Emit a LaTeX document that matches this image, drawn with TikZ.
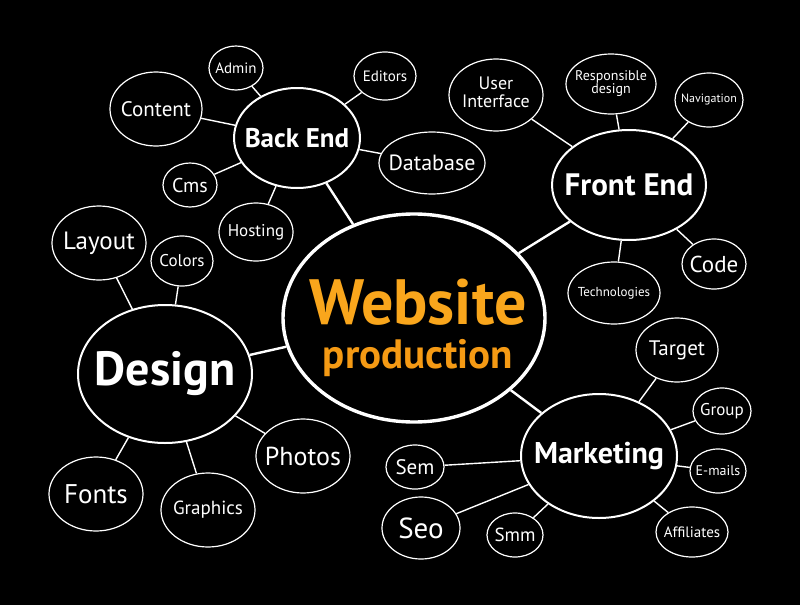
\documentclass[tikz,border=0pt]{standalone}
\usepackage{fontspec}
\setmainfont{PT Sans}
\usetikzlibrary{shapes.geometric}
\definecolor{webgold}{HTML}{F9A61C}
\definecolor{weborange}{HTML}{F59A14}
% text that does not widen its ellipse
\newcommand\nowide[1]{\makebox[0pt]{#1}}
\newcommand\twolines[2]{\makebox[0pt]{\begin{tabular}{@{}c@{}}#1\\#2\end{tabular}}}

\begin{document}
\begin{tikzpicture}[
  x=1pt, y=-1pt,
  bubble/.style={ellipse, draw=white, fill=black, text=white,
    line width=1.2pt, inner sep=0pt},
  hub/.style={bubble, line width=2pt},
  twig/.style={draw=white, line width=1.4pt},
  limb/.style={draw=white, line width=2.4pt},
]
\fill[black] (0,0) rectangle (800,605);
\useasboundingbox (0,0) rectangle (800,605);

% centre
\node[bubble, line width=3.4pt, minimum width=262pt, minimum height=208pt]
  (web) at (414,318) {};
\node[text=webgold, font=\bfseries\fontsize{64}{64}\selectfont] (webtxt) at (418,302) {Website};
\node[text=weborange, font=\bfseries\fontsize{41}{41}\selectfont] (prodtxt) at (418,358) {production};

% hubs
\node[hub, minimum width=126pt, minimum height=100pt, font=\bfseries\fontsize{27}{27}\selectfont]
  (backend) at (297,138) {\nowide{Back End}};
\node[hub, minimum width=154pt, minimum height=110pt, font=\bfseries\fontsize{31}{31}\selectfont]
  (frontend) at (629,185) {\nowide{Front End}};
\node[hub, minimum width=174pt, minimum height=138pt, font=\bfseries\fontsize{48}{48}\selectfont]
  (design) at (165,374) {\nowide{Design}};
\node[hub, minimum width=156pt, minimum height=124pt, font=\bfseries\fontsize{30}{30}\selectfont]
  (marketing) at (599,456) {\nowide{Marketing}};

% back end
\node[bubble, minimum width=92pt, minimum height=74pt, font=\fontsize{21}{21}\selectfont]
  (content) at (156,109) {\nowide{Content}};
\node[bubble, minimum width=54pt, minimum height=44pt, font=\fontsize{15}{15}\selectfont]
  (admin) at (236,68) {\nowide{Admin}};
\node[bubble, minimum width=62pt, minimum height=48pt, font=\fontsize{15}{15}\selectfont]
  (editors) at (385,76) {\nowide{Editors}};
\node[bubble, minimum width=106pt, minimum height=62pt, font=\fontsize{22}{22}\selectfont]
  (database) at (432,163) {\nowide{Database}};
\node[bubble, minimum width=54pt, minimum height=44pt, font=\fontsize{20}{20}\selectfont]
  (cms) at (190,185) {\nowide{Cms}};
\node[bubble, minimum width=74pt, minimum height=58pt, font=\fontsize{17}{17}\selectfont]
  (hosting) at (256,232) {\nowide{Hosting}};

% front end
\node[bubble, minimum width=94pt, minimum height=72pt, font=\fontsize{18}{18}\selectfont]
  (userif) at (496,95) {\twolines{User}{Interface}};
\node[bubble, minimum width=90pt, minimum height=60pt, font=\fontsize{14}{13}\selectfont]
  (respdesign) at (611,84) {\twolines{Responsible}{design}};
\node[bubble, minimum width=68pt, minimum height=54pt, font=\fontsize{12}{12}\selectfont]
  (navigation) at (709,100) {\nowide{Navigation}};
\node[bubble, minimum width=64pt, minimum height=50pt, font=\fontsize{23}{23}\selectfont]
  (code) at (714,264) {\nowide{Code}};
\node[bubble, minimum width=92pt, minimum height=62pt, font=\fontsize{13}{13}\selectfont]
  (techno) at (614,293) {\nowide{Technologies}};

% design
\node[bubble, minimum width=94pt, minimum height=74pt, font=\fontsize{25}{25}\selectfont]
  (layout) at (99,243) {\nowide{Layout}};
\node[bubble, minimum width=62pt, minimum height=50pt, font=\fontsize{17}{17}\selectfont]
  (colors) at (182,261) {\nowide{Colors}};
\node[bubble, minimum width=94pt, minimum height=74pt, font=\fontsize{27}{27}\selectfont]
  (fonts) at (96,494) {\nowide{Fonts}};
\node[bubble, minimum width=94pt, minimum height=74pt, font=\fontsize{19}{19}\selectfont]
  (graphics) at (208,510) {\nowide{Graphics}};
\node[bubble, minimum width=94pt, minimum height=74pt, font=\fontsize{26}{26}\selectfont]
  (photos) at (303,456) {\nowide{Photos}};

% marketing
\node[bubble, minimum width=82pt, minimum height=64pt, font=\fontsize{21}{21}\selectfont]
  (target) at (677,350) {\nowide{Target}};
\node[bubble, minimum width=58pt, minimum height=46pt, font=\fontsize{17}{17}\selectfont]
  (group) at (722,411) {\nowide{Group}};
\node[bubble, minimum width=56pt, minimum height=44pt, font=\fontsize{14}{14}\selectfont]
  (emails) at (718,471) {\nowide{E-mails}};
\node[bubble, minimum width=72pt, minimum height=50pt, font=\fontsize{15}{15}\selectfont]
  (affiliates) at (692,532) {\nowide{Affiliates}};
\node[bubble, minimum width=56pt, minimum height=44pt, font=\fontsize{19}{19}\selectfont]
  (smm) at (515,535) {\nowide{Smm}};
\node[bubble, minimum width=58pt, minimum height=44pt, font=\fontsize{21}{21}\selectfont]
  (sem) at (415,467) {\nowide{Sem}};
\node[bubble, minimum width=78pt, minimum height=62pt, font=\fontsize{29}{29}\selectfont]
  (seo) at (421,528) {\nowide{Seo}};

% connectors
\foreach \h in {backend,frontend,design,marketing}
  \draw[limb] (web) -- (\h);
\foreach \l in {content,admin,editors,database,cms,hosting}
  \draw[twig] (backend) -- (\l);
\foreach \l in {userif,respdesign,navigation,code,techno}
  \draw[twig] (frontend) -- (\l);
\foreach \l in {layout,colors,fonts,graphics,photos}
  \draw[twig] (design) -- (\l);
\foreach \l in {target,group,emails,affiliates,smm,sem,seo}
  \draw[twig] (marketing) -- (\l);
\end{tikzpicture}
\end{document}
